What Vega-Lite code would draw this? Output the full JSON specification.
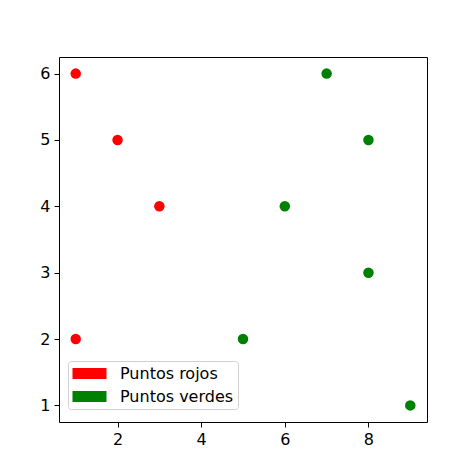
{
  "$schema": "https://vega.github.io/schema/vega-lite/v6.json",
  "width": 368,
  "height": 365,
  "autosize": "none",
  "padding": {"left": 59, "top": 57, "right": 47, "bottom": 52},
  "background": "white",
  "config": {
    "font": "DejaVu Sans",
    "view": {"stroke": "black", "strokeWidth": 1},
    "axis": {
      "grid": false,
      "domain": false,
      "tickColor": "black",
      "tickSize": 5,
      "labelColor": "black",
      "labelFontSize": 16,
      "labelPadding": 4,
      "title": null
    }
  },
  "data": {
    "values": [
      {"x": 1, "y": 6, "serie": "Puntos rojos"},
      {"x": 2, "y": 5, "serie": "Puntos rojos"},
      {"x": 3, "y": 4, "serie": "Puntos rojos"},
      {"x": 1, "y": 2, "serie": "Puntos rojos"},
      {"x": 7, "y": 6, "serie": "Puntos verdes"},
      {"x": 8, "y": 5, "serie": "Puntos verdes"},
      {"x": 6, "y": 4, "serie": "Puntos verdes"},
      {"x": 8, "y": 3, "serie": "Puntos verdes"},
      {"x": 5, "y": 2, "serie": "Puntos verdes"},
      {"x": 9, "y": 1, "serie": "Puntos verdes"}
    ]
  },
  "mark": {"type": "circle", "size": 110, "opacity": 1},
  "encoding": {
    "x": {
      "field": "x",
      "type": "quantitative",
      "scale": {"domain": [0.6, 9.4], "nice": false, "zero": false},
      "axis": {"values": [2, 4, 6, 8]}
    },
    "y": {
      "field": "y",
      "type": "quantitative",
      "scale": {"domain": [0.75, 6.25], "nice": false, "zero": false},
      "axis": {"values": [1, 2, 3, 4, 5, 6]}
    },
    "color": {
      "field": "serie",
      "type": "nominal",
      "scale": {"domain": ["Puntos rojos", "Puntos verdes"], "range": ["#ff0000", "#008000"]},
      "legend": {
        "title": null,
        "orient": "none",
        "legendX": 9,
        "legendY": 304,
        "symbolType": "M-2,-0.64H2V0.64H-2Z",
        "symbolSize": 289,
        "symbolOffset": 9,
        "symbolStrokeWidth": 0,
        "labelFontSize": 16,
        "labelColor": "black",
        "labelOffset": 22,
        "rowPadding": 6,
        "padding": 4,
        "strokeColor": "#d0d0d0",
        "fillColor": "white",
        "cornerRadius": 3
      }
    }
  }
}
